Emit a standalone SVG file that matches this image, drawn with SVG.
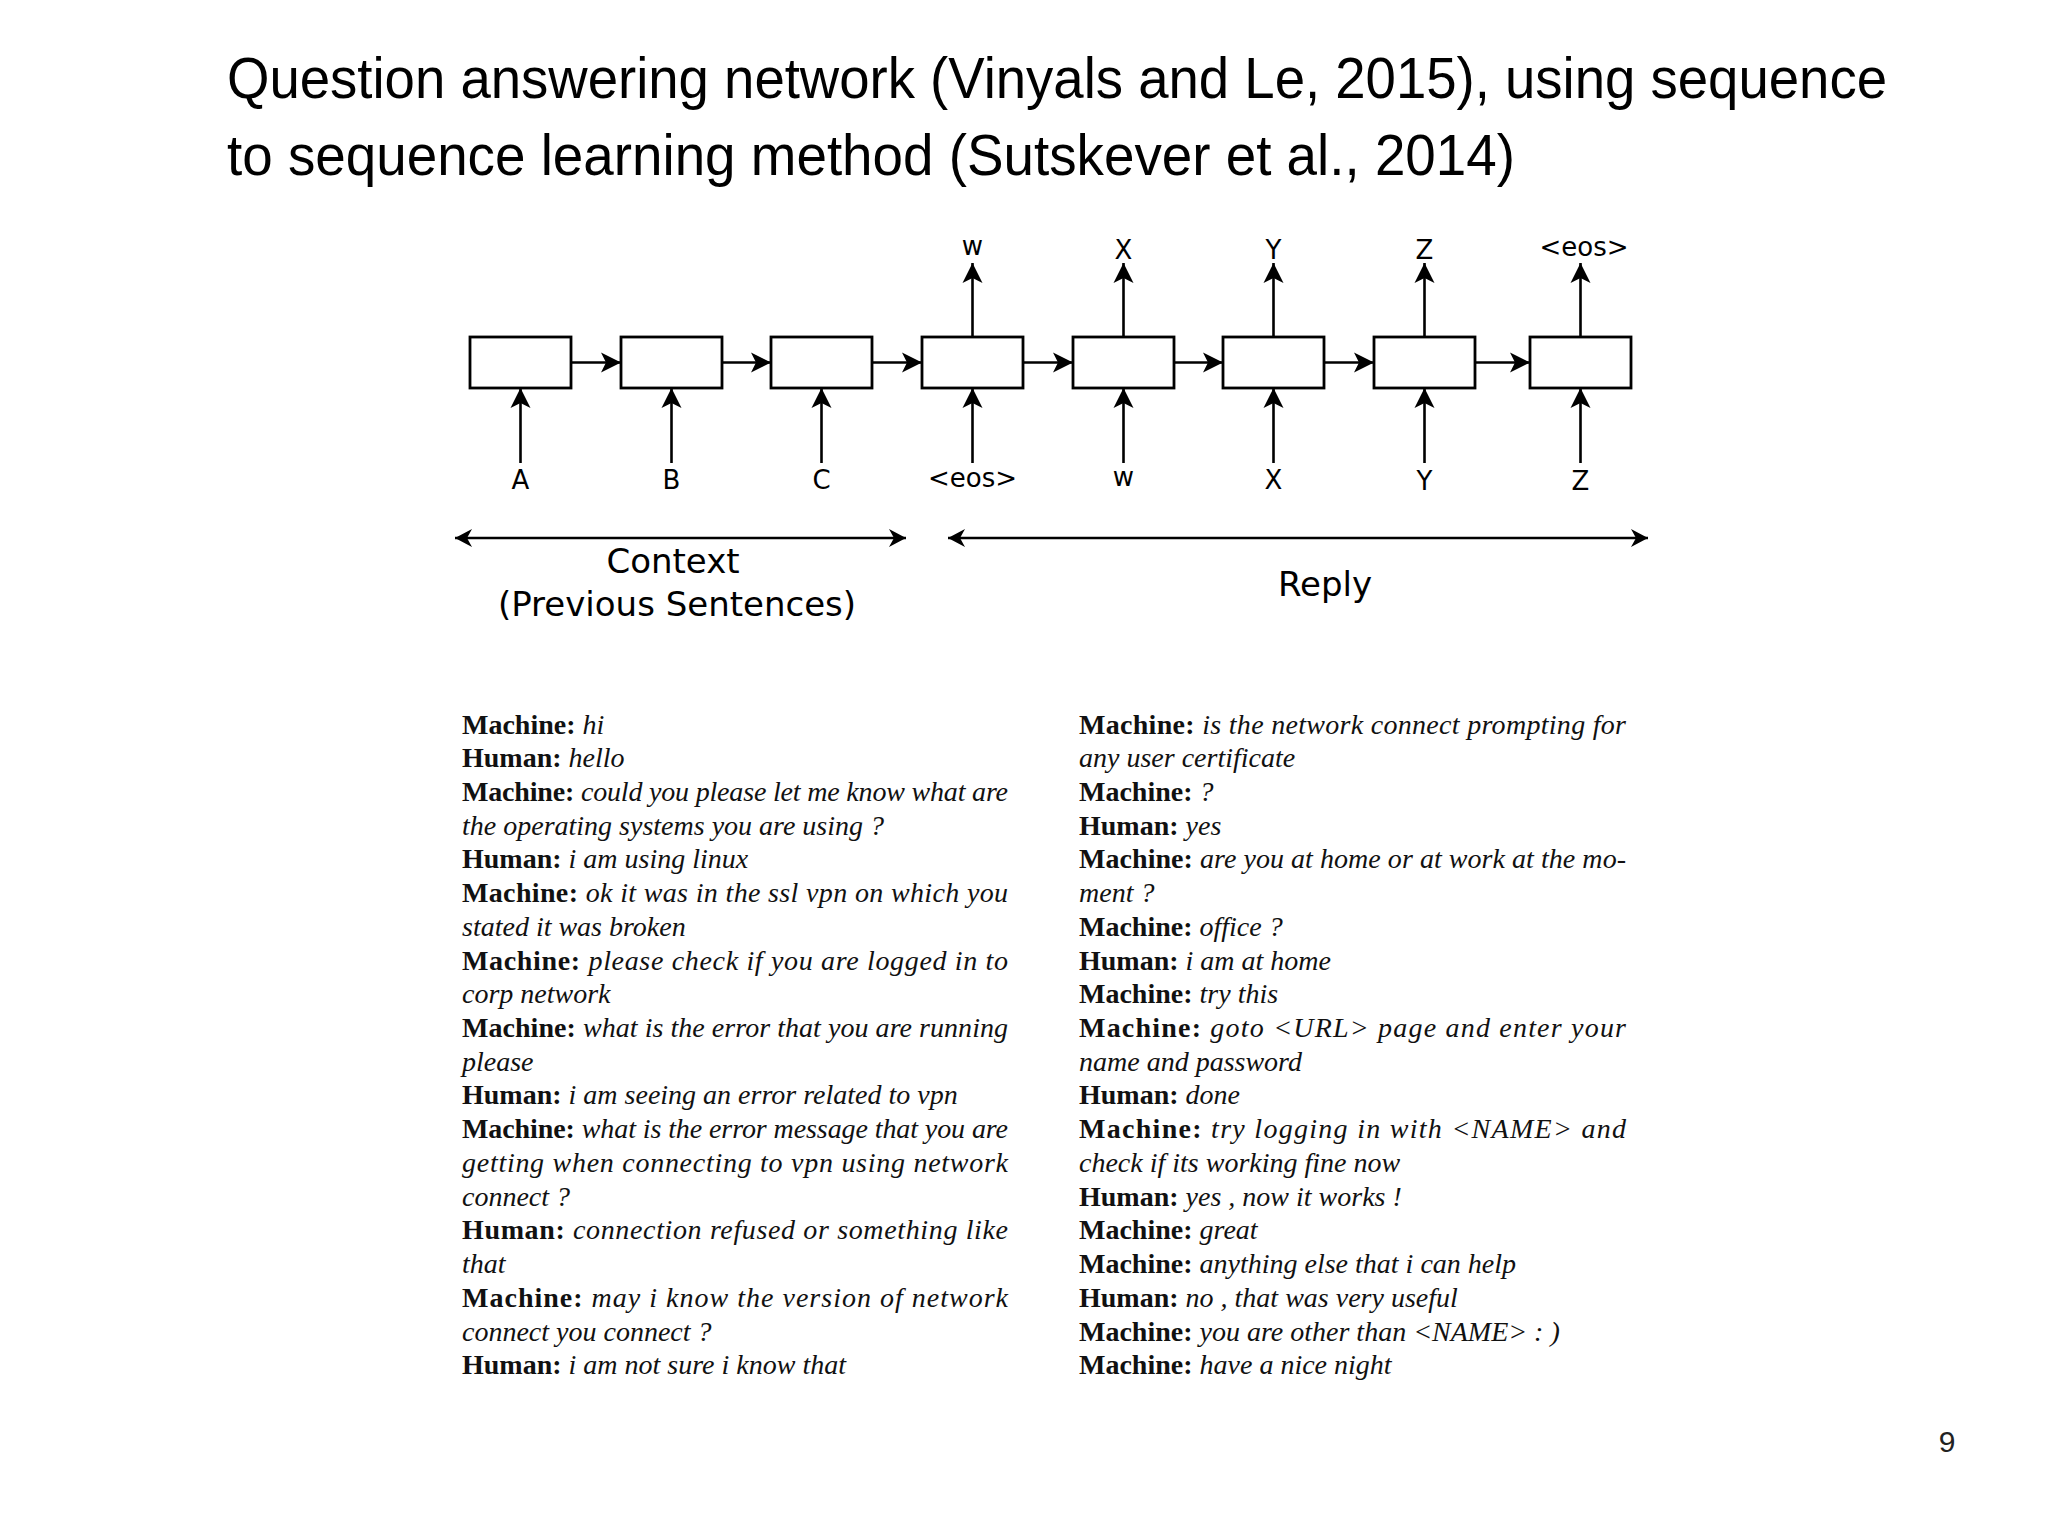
<svg xmlns="http://www.w3.org/2000/svg" width="2048" height="1536" viewBox="0 0 2048 1536">
<style>
.title{font-family:"Liberation Sans",Arial,sans-serif;font-size:57px;fill:#000}
.box{fill:#fff;stroke:#000;stroke-width:2.8}
.conn{stroke:#000;stroke-width:2.6;fill:none}
.lab{font-family:"DejaVu Sans",sans-serif;font-size:26px;fill:#000;text-anchor:middle}
.span{font-family:"DejaVu Sans",sans-serif;font-size:34px;fill:#000;text-anchor:middle}
.dl{font-family:"Liberation Serif","Times New Roman",serif;font-size:28px;fill:#111}
.b{font-weight:bold;font-style:normal}
.i{font-style:italic}
.pg{font-family:"Liberation Sans",Arial,sans-serif;font-size:30px;fill:#222;text-anchor:middle}
</style>
<defs>
<marker id="ah" markerUnits="userSpaceOnUse" markerWidth="24" markerHeight="24" viewBox="-22 -12 24 24" refX="0" refY="0" orient="auto">
<path d="M0,0 L-20,-10 L-15,0 L-20,10 Z" fill="#000"/>
</marker>
<marker id="dh" markerUnits="userSpaceOnUse" markerWidth="22" markerHeight="22" viewBox="-20 -11 22 22" refX="0" refY="0" orient="auto-start-reverse">
<path d="M0,0 L-17,-9 L-12,0 L-17,9 Z" fill="#000"/>
</marker>
</defs>
<rect width="2048" height="1536" fill="#fff"/>
<g id="title">
<text class="title" x="227" y="98" textLength="1660" lengthAdjust="spacingAndGlyphs">Question answering network (Vinyals and Le, 2015), using sequence</text>
<text class="title" x="227" y="175" textLength="1288" lengthAdjust="spacingAndGlyphs">to sequence learning method (Sutskever et al., 2014)</text>
</g>
<g id="connectors">
<line class="conn" x1="571" y1="362.5" x2="621" y2="362.5" marker-end="url(#ah)"/>
<line class="conn" x1="722" y1="362.5" x2="771" y2="362.5" marker-end="url(#ah)"/>
<line class="conn" x1="872" y1="362.5" x2="922" y2="362.5" marker-end="url(#ah)"/>
<line class="conn" x1="1023" y1="362.5" x2="1073" y2="362.5" marker-end="url(#ah)"/>
<line class="conn" x1="1174" y1="362.5" x2="1223" y2="362.5" marker-end="url(#ah)"/>
<line class="conn" x1="1324" y1="362.5" x2="1374" y2="362.5" marker-end="url(#ah)"/>
<line class="conn" x1="1475" y1="362.5" x2="1530" y2="362.5" marker-end="url(#ah)"/>
<line class="conn" x1="520.5" y1="463" x2="520.5" y2="388" marker-end="url(#ah)"/>
<line class="conn" x1="671.5" y1="463" x2="671.5" y2="388" marker-end="url(#ah)"/>
<line class="conn" x1="821.5" y1="463" x2="821.5" y2="388" marker-end="url(#ah)"/>
<line class="conn" x1="972.5" y1="463" x2="972.5" y2="388" marker-end="url(#ah)"/>
<line class="conn" x1="1123.5" y1="463" x2="1123.5" y2="388" marker-end="url(#ah)"/>
<line class="conn" x1="1273.5" y1="463" x2="1273.5" y2="388" marker-end="url(#ah)"/>
<line class="conn" x1="1424.5" y1="463" x2="1424.5" y2="388" marker-end="url(#ah)"/>
<line class="conn" x1="1580.5" y1="463" x2="1580.5" y2="388" marker-end="url(#ah)"/>
<line class="conn" x1="972.5" y1="337" x2="972.5" y2="263" marker-end="url(#ah)"/>
<line class="conn" x1="1123.5" y1="337" x2="1123.5" y2="263" marker-end="url(#ah)"/>
<line class="conn" x1="1273.5" y1="337" x2="1273.5" y2="263" marker-end="url(#ah)"/>
<line class="conn" x1="1424.5" y1="337" x2="1424.5" y2="263" marker-end="url(#ah)"/>
<line class="conn" x1="1580.5" y1="337" x2="1580.5" y2="263" marker-end="url(#ah)"/>
<line class="conn" x1="455" y1="538" x2="906" y2="538" stroke-width="2.4" marker-start="url(#dh)" marker-end="url(#dh)"/>
<line class="conn" x1="948" y1="538" x2="1648" y2="538" stroke-width="2.4" marker-start="url(#dh)" marker-end="url(#dh)"/>
</g>
<g id="cell1"><rect class="box" x="470" y="337" width="101" height="51"/></g>
<g id="cell2"><rect class="box" x="621" y="337" width="101" height="51"/></g>
<g id="cell3"><rect class="box" x="771" y="337" width="101" height="51"/></g>
<g id="cell4"><rect class="box" x="922" y="337" width="101" height="51"/></g>
<g id="cell5"><rect class="box" x="1073" y="337" width="101" height="51"/></g>
<g id="cell6"><rect class="box" x="1223" y="337" width="101" height="51"/></g>
<g id="cell7"><rect class="box" x="1374" y="337" width="101" height="51"/></g>
<g id="cell8"><rect class="box" x="1530" y="337" width="101" height="51"/></g>
<g id="inputs">
<text class="lab" x="520.5" y="489">A</text>
<text class="lab" x="671.5" y="489">B</text>
<text class="lab" x="821.5" y="489">C</text>
<text class="lab" x="972.5" y="487">&lt;eos&gt;</text>
<text class="lab" x="1123.5" y="486">w</text>
<text class="lab" x="1273.5" y="489">X</text>
<text class="lab" x="1424.5" y="490">Y</text>
<text class="lab" x="1580.5" y="490">Z</text>
</g>
<g id="outputs">
<text class="lab" x="972.5" y="255">w</text>
<text class="lab" x="1123.5" y="259">X</text>
<text class="lab" x="1273.5" y="259">Y</text>
<text class="lab" x="1424.5" y="259">Z</text>
<text class="lab" x="1584" y="256">&lt;eos&gt;</text>
</g>
<g id="spans">
<text class="span" x="673" y="573">Context</text>
<text class="span" x="677" y="616">(Previous Sentences)</text>
<text class="span" x="1325" y="596">Reply</text>
</g>
<g id="dialog-left" class="dl">
<text x="462" y="733.5"><tspan class="b">Machine:</tspan> <tspan class="i">hi</tspan></text>
<text x="462" y="767.2"><tspan class="b">Human:</tspan> <tspan class="i">hello</tspan></text>
<text x="462" y="800.9" textLength="546" lengthAdjust="spacing"><tspan class="b">Machine:</tspan> <tspan class="i">could you please let me know what are</tspan></text>
<text x="462" y="834.7" class="i">the operating systems you are using ?</text>
<text x="462" y="868.4"><tspan class="b">Human:</tspan> <tspan class="i">i am using linux</tspan></text>
<text x="462" y="902.1" textLength="546" lengthAdjust="spacing"><tspan class="b">Machine:</tspan> <tspan class="i">ok it was in the ssl vpn on which you</tspan></text>
<text x="462" y="935.8" class="i">stated it was broken</text>
<text x="462" y="969.5" textLength="546" lengthAdjust="spacing"><tspan class="b">Machine:</tspan> <tspan class="i">please check if you are logged in to</tspan></text>
<text x="462" y="1003.3" class="i">corp network</text>
<text x="462" y="1037" textLength="546" lengthAdjust="spacing"><tspan class="b">Machine:</tspan> <tspan class="i">what is the error that you are running</tspan></text>
<text x="462" y="1070.7" class="i">please</text>
<text x="462" y="1104.4"><tspan class="b">Human:</tspan> <tspan class="i">i am seeing an error related to vpn</tspan></text>
<text x="462" y="1138.1" textLength="546" lengthAdjust="spacing"><tspan class="b">Machine:</tspan> <tspan class="i">what is the error message that you are</tspan></text>
<text x="462" y="1171.9" class="i" textLength="546" lengthAdjust="spacing">getting when connecting to vpn using network</text>
<text x="462" y="1205.6" class="i">connect ?</text>
<text x="462" y="1239.3" textLength="546" lengthAdjust="spacing"><tspan class="b">Human:</tspan> <tspan class="i">connection refused or something like</tspan></text>
<text x="462" y="1273" class="i">that</text>
<text x="462" y="1306.7" textLength="546" lengthAdjust="spacing"><tspan class="b">Machine:</tspan> <tspan class="i">may i know the version of network</tspan></text>
<text x="462" y="1340.5" class="i">connect you connect ?</text>
<text x="462" y="1374.2"><tspan class="b">Human:</tspan> <tspan class="i">i am not sure i know that</tspan></text>
</g>
<g id="dialog-right" class="dl">
<text x="1079" y="733.5" textLength="547" lengthAdjust="spacing"><tspan class="b">Machine:</tspan> <tspan class="i">is the network connect prompting for</tspan></text>
<text x="1079" y="767.2" class="i">any user certificate</text>
<text x="1079" y="800.9"><tspan class="b">Machine:</tspan> <tspan class="i">?</tspan></text>
<text x="1079" y="834.7"><tspan class="b">Human:</tspan> <tspan class="i">yes</tspan></text>
<text x="1079" y="868.4" textLength="547" lengthAdjust="spacing"><tspan class="b">Machine:</tspan> <tspan class="i">are you at home or at work at the mo-</tspan></text>
<text x="1079" y="902.1" class="i">ment ?</text>
<text x="1079" y="935.8"><tspan class="b">Machine:</tspan> <tspan class="i">office ?</tspan></text>
<text x="1079" y="969.5"><tspan class="b">Human:</tspan> <tspan class="i">i am at home</tspan></text>
<text x="1079" y="1003.3"><tspan class="b">Machine:</tspan> <tspan class="i">try this</tspan></text>
<text x="1079" y="1037" textLength="547" lengthAdjust="spacing"><tspan class="b">Machine:</tspan> <tspan class="i">goto &lt;URL&gt; page and enter your</tspan></text>
<text x="1079" y="1070.7" class="i">name and password</text>
<text x="1079" y="1104.4"><tspan class="b">Human:</tspan> <tspan class="i">done</tspan></text>
<text x="1079" y="1138.1" textLength="547" lengthAdjust="spacing"><tspan class="b">Machine:</tspan> <tspan class="i">try logging in with &lt;NAME&gt; and</tspan></text>
<text x="1079" y="1171.9" class="i">check if its working fine now</text>
<text x="1079" y="1205.6"><tspan class="b">Human:</tspan> <tspan class="i">yes , now it works !</tspan></text>
<text x="1079" y="1239.3"><tspan class="b">Machine:</tspan> <tspan class="i">great</tspan></text>
<text x="1079" y="1273"><tspan class="b">Machine:</tspan> <tspan class="i">anything else that i can help</tspan></text>
<text x="1079" y="1306.7"><tspan class="b">Human:</tspan> <tspan class="i">no , that was very useful</tspan></text>
<text x="1079" y="1340.5"><tspan class="b">Machine:</tspan> <tspan class="i">you are other than &lt;NAME&gt; : )</tspan></text>
<text x="1079" y="1374.2"><tspan class="b">Machine:</tspan> <tspan class="i">have a nice night</tspan></text>
</g>
<text class="pg" x="1947" y="1452">9</text>
</svg>
